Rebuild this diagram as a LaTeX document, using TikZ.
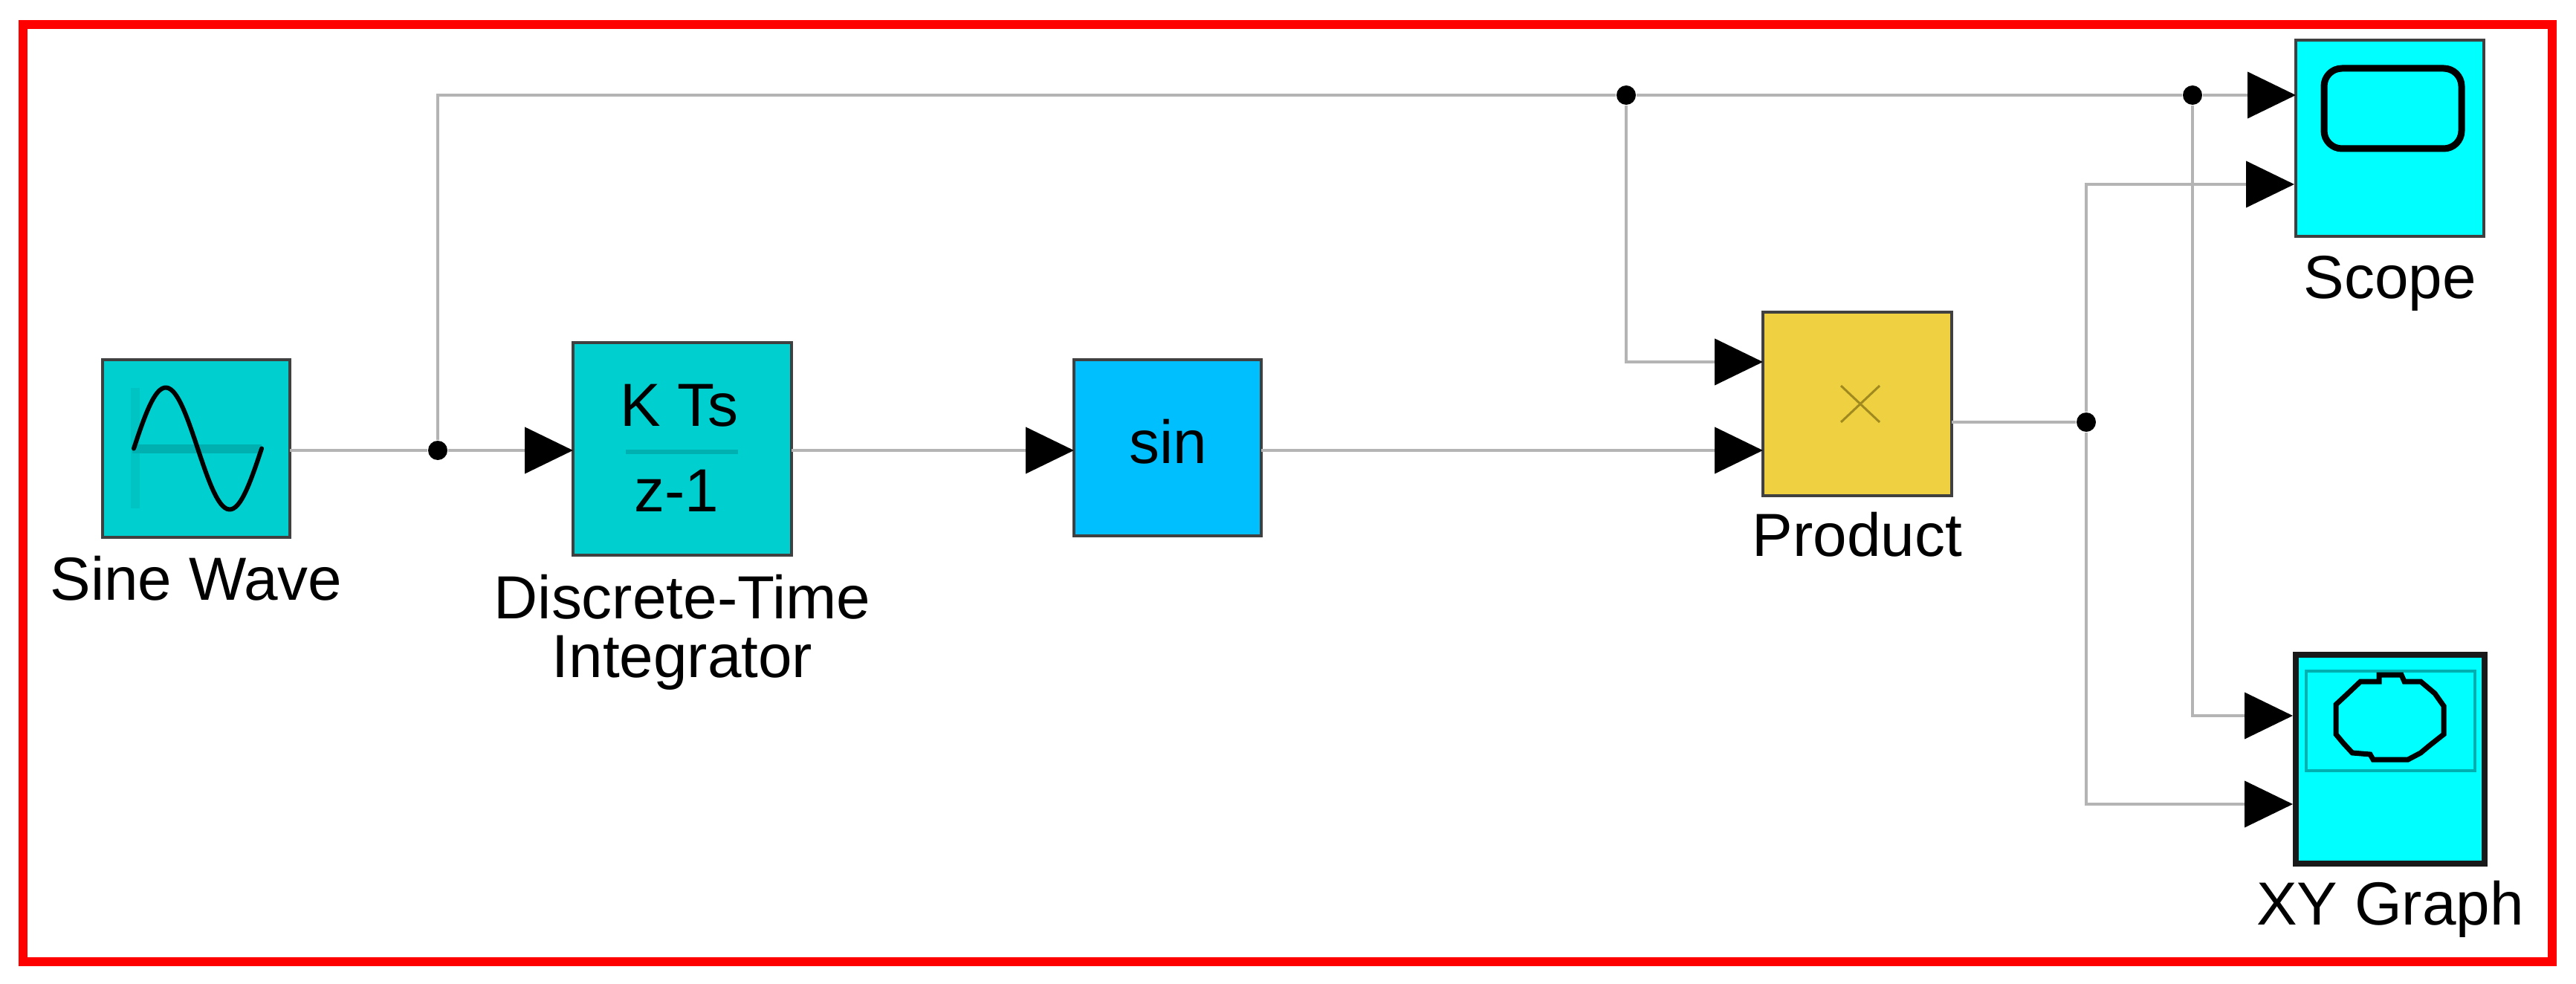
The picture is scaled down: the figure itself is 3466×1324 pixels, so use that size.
\documentclass[tikz,border=0pt]{standalone}
\usepackage{fontspec}
\setmainfont{Liberation Sans}
\usetikzlibrary{positioning,arrows.meta}
\definecolor{tealblock}{HTML}{00CFCF}
\definecolor{tealmark}{HTML}{00B0B0}
\definecolor{tealfaint}{HTML}{00C3C3}
\definecolor{cyanblock}{HTML}{00FFFF}
\definecolor{skyblock}{HTML}{00BFFF}
\definecolor{yellowblock}{HTML}{EFD040}
\definecolor{crossmark}{HTML}{A08A20}
\definecolor{wiregray}{HTML}{B4B4B4}

\begin{document}
\begin{tikzpicture}[
    x=.1mm,y=-.1mm,
    block/.style={
      draw=black!75,
      line width=.4mm,
      outer sep=0pt,
      inner sep=0pt
    },
    caption/.style={
      font=\fontsize{23.3}{22.6}\selectfont,
      align=center,
      inner sep=0pt,
      outer sep=0pt
    },
    blocktext/.style={
      font=\fontsize{23.3}{23}\selectfont,
      anchor=base,
      inner sep=0pt
    },
    dot/.style={
      circle,
      fill=black,
      inner sep=0pt,
      minimum size=2.6mm
    },
    wire/.style={
      draw=wiregray,
      line width=.45mm
    },
    >={Triangle[length=6.5mm,width=6.2mm,black]}
    ]
    \useasboundingbox (0,0) rectangle (3466,1324);
    \node[draw=red,line width=1.2mm,minimum width=34.03cm,minimum height=12.61cm] (frame) at (1732.5,663.5) {};

    % blocks
    \node[block,fill=tealblock,minimum width=25.2mm,minimum height=23.9mm] (sine) at (264,603.5) {};
    \node[block,fill=tealblock,minimum width=29.4mm,minimum height=28.6mm] (integ) at (918,604) {};
    \node[block,fill=skyblock,minimum width=25.2mm,minimum height=23.7mm] (sinfn) at (1571,602.5) {};
    \node[block,fill=yellowblock,minimum width=25.4mm,minimum height=24.7mm] (product) at (2499,543.5) {};
    \node[block,fill=cyanblock,minimum width=25.3mm,minimum height=26.4mm] (scope) at (3215.5,186) {};
    \node[block,draw=black!90,line width=.8mm,fill=cyanblock,minimum width=25.4mm,minimum height=28.1mm] (xy) at (3216,1021.5) {};

    % block names
    \node[caption,below=2.5mm of sine] (sinename) {Sine Wave};
    \node[caption,below=2.6mm of integ] (integname) {Discrete-Time\\Integrator};
    \node[caption,below=2.2mm of product] (productname) {Product};
    \node[caption,below=2.6mm of scope] (scopename) {Scope};
    \node[caption,below=2.3mm of xy] (xyname) {XY Graph};

    % block faces
    \begin{scope}[shift={(sine)}]
      \draw[tealfaint,line width=1.2mm] (-82,-82) -- (-82,80);
      \draw[tealmark,line width=1.2mm] (-86,0) -- (88,0);
      \draw[black,line width=.6mm,line cap=round] plot[domain=0:360,samples=60,smooth] ({-84+\x*.478},{-82*sin(\x)});
    \end{scope}
    \node[blocktext] (kts) at (914,573) {K Ts};
    \draw[tealmark,line width=.6mm] (842,608) -- (993,608);
    \node[blocktext] (zmin) at (910,688) {z-1};
    \node[blocktext] (sinlabel) at (1572,623) {sin};
    \draw[crossmark,line width=.3mm] (2477,519) -- (2529,568);
    \draw[crossmark,line width=.3mm] (2529,519) -- (2477,568);
    \node[draw=black,line width=.9mm,rounded corners=2.4mm,minimum width=18.5mm,minimum height=10.8mm] (scopescreen) at (3219.5,146) {};
    \node[draw=tealmark,line width=.4mm,minimum width=22.7mm,minimum height=13.4mm] (xyscreen) at (3216.5,970) {};
    \draw[black,line width=.7mm] (3201,908) -- (3231,908) -- (3235,917) -- (3257,917) -- (3276,933) -- (3288,950)
      -- (3288,988) -- (3269,1003) -- (3257,1013) -- (3240,1022) -- (3193,1022) -- (3189,1015) -- (3165,1013)
      -- (3153,1000) -- (3143,988) -- (3143,948) -- (3157,935) -- (3176,917) -- (3201,917) -- cycle;

    % junctions and input ports
    \foreach \jname/\jx/\jy in {jsine/589/606,jtop/2188/128,jscope/2950/128,jprod/2807/568}
    \node[dot] (\jname) at (\jx,\jy) {};
    \foreach \pname/\py in {sinfnin/606,productone/487,producttwo/606}
    \coordinate (\pname) at (0,\py);
    \coordinate (scopetwo) at (3087,248);
    \coordinate (xyone) at (3085,963);
    \coordinate (xytwo) at (3085,1082);

    % connectors
    \draw[wire] (sine.east |- jsine) -- (jsine);
    \draw[wire] (jsine) |- (jtop);
    \draw[wire] (jtop) -- (jscope);
    \draw[wire] (product.east |- jprod) -- (jprod);
    \draw[wire,->] (jsine) -- (integ.west |- jsine);
    \draw[wire,->] (integ.east |- sinfnin) -- (sinfn.west |- sinfnin);
    \draw[wire,->] (sinfn.east |- producttwo) -- (product.west |- producttwo);
    \draw[wire,->] (jtop) |- (product.west |- productone);
    \draw[wire,->] (jscope) -- (scope.west |- jscope);
    \draw[wire,->] (jprod) |- (scopetwo);
    \draw[wire,->] (jprod) |- (xytwo);
    \draw[wire,->] (jscope) |- (xyone);
  \end{tikzpicture}
\end{document}
